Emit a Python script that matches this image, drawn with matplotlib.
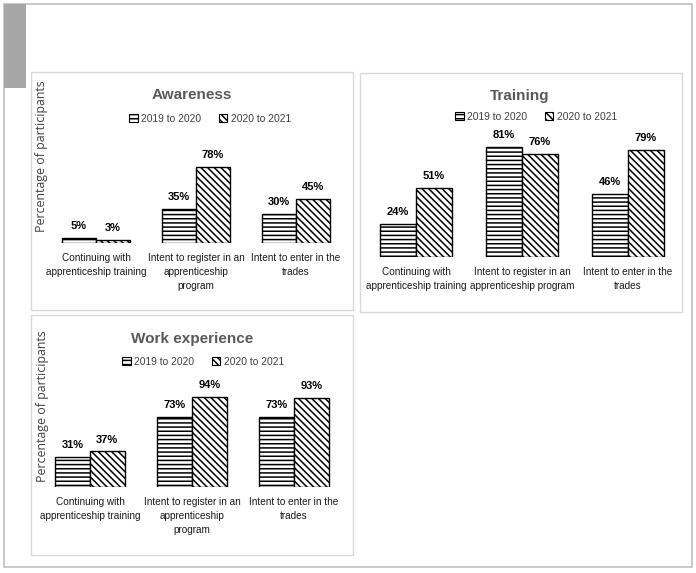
import matplotlib
matplotlib.use('Agg')
from matplotlib import pyplot as plt
from matplotlib.patches import Rectangle, Patch

plt.rcParams['hatch.linewidth'] = 1.1

W, H = 696, 573

categories_aw = ['Continuing with\napprenticeship training',
                 'Intent to register in an\napprenticeship\nprogram',
                 'Intent to enter in the\ntrades']
categories_tr = ['Continuing with\napprenticeship training',
                 'Intent to register in an\napprenticeship program',
                 'Intent to enter in the\ntrades']
categories_we = categories_aw

awareness_2019 = [5, 35, 30]
awareness_2020 = [3, 78, 45]
training_2019 = [24, 81, 46]
training_2020 = [51, 76, 79]
work_2019 = [31, 73, 73]
work_2020 = [37, 94, 93]

series_names = ['2019 to 2020', '2020 to 2021']

txt_font = 'Liberation Sans'
hatch_a = '----'
hatch_b = '\\' * 5


def box(x0, y0, x1, y1):
    # pixel box (top-left origin) -> figure fraction rect
    return [x0 / W, 1 - y1 / H, (x1 - x0) / W, (y1 - y0) / H]


fig = plt.figure(figsize=(W / 100, H / 100), dpi=100)

# outer frame and grey tab
fig.patches.append(Rectangle((4 / W, 1 - 567 / H), 688 / W, 563 / H,
                             transform=fig.transFigure, fill=False,
                             ec='#c0c0c0', lw=1.2))
fig.patches.append(Rectangle((4 / W, 1 - 88 / H), 22 / W, 84 / H,
                             transform=fig.transFigure, fc='#a6a6a6',
                             ec='none'))

# panel frames
for x0, y0, x1, y1 in [(31, 72, 353, 310), (360, 73, 682, 312),
                       (31, 315, 353, 555)]:
    fig.patches.append(Rectangle((x0 / W, 1 - y1 / H), (x1 - x0) / W,
                                 (y1 - y0) / H, transform=fig.transFigure,
                                 fill=False, ec='#d9d9d9', lw=1.0))


def panel(rect, title, title_xy, leg_xy, cats, v1, v2, ylabel_xy=None,
          width=0.34):
    ax = fig.add_axes(box(*rect))
    xs = range(len(cats))
    b1 = ax.bar([x - width / 2 for x in xs], v1, width, color='white',
                edgecolor='black', hatch=hatch_a, lw=1.0)
    b2 = ax.bar([x + width / 2 for x in xs], v2, width, color='white',
                edgecolor='black', hatch=hatch_b, lw=1.0)
    for bars, vals in [(b1, v1), (b2, v2)]:
        for b, v in zip(bars, vals):
            ax.annotate(f'{v}%', (b.get_x() + b.get_width() / 2, v),
                        xytext=(0, 5), textcoords='offset points',
                        ha='center', va='bottom', fontsize=8,
                        fontweight='bold', family=txt_font)
    ax.set_xlim(-0.5, len(cats) - 0.5)
    ax.set_ylim(0, 100)
    ax.set_xticks(list(xs))
    ax.set_xticklabels(cats, family=txt_font, fontsize=7.2, color='#1a1a1a')
    for t in ax.get_xticklabels():
        t.set_linespacing(1.5)
    ax.tick_params(axis='x', length=0, pad=7)
    ax.set_yticks([])
    for s in ax.spines.values():
        s.set_visible(False)
    ax.patch.set_visible(False)

    fig.text(title_xy[0] / W, 1 - title_xy[1] / H, title, ha='center',
             va='center', fontsize=11, fontweight='bold', color='#595959',
             family=txt_font)
    handles = [Patch(fc='white', ec='black', hatch=hatch_a, lw=0.8),
               Patch(fc='white', ec='black', hatch=hatch_b, lw=0.8)]
    fig.legend(handles, series_names, loc='center',
               bbox_to_anchor=(leg_xy[0] / W, 1 - leg_xy[1] / H), ncol=2,
               frameon=False, prop={'family': txt_font, 'size': 7.4},
               handlelength=0.8, handleheight=0.8, handletextpad=0.3,
               columnspacing=1.8, labelcolor='#404040')
    if ylabel_xy is not None:
        fig.text(ylabel_xy[0] / W, 1 - ylabel_xy[1] / H,
                 'Percentage of participants', rotation=90, ha='center',
                 va='center', fontsize=8.9, color='#404040',
                 family='Open Sans')
    return ax


panel((46, 146, 346, 243), 'Awareness', (192, 95), (210, 119),
      categories_aw, awareness_2019, awareness_2020, ylabel_xy=(42, 156))
panel((363, 121, 681, 257), 'Training', (520, 96), (536, 117),
      categories_tr, training_2019, training_2020)
panel((39, 391, 345, 487), 'Work experience', (192, 339), (203, 362),
      categories_we, work_2019, work_2020, ylabel_xy=(43, 406))

fig.savefig('out.png', dpi=100)
